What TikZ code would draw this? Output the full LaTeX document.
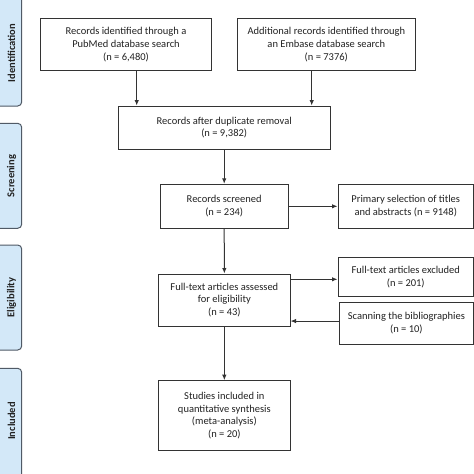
\documentclass[tikz,border=0pt]{standalone}
\usepackage{fontspec}
\setmainfont{Carlito}
\usetikzlibrary{arrows.meta}
\definecolor{linec}{HTML}{333333}
\definecolor{textc}{HTML}{222222}
\definecolor{tabfill}{HTML}{D3E8F8}
\definecolor{tabline}{HTML}{505A66}
\begin{document}
\begin{tikzpicture}[x=1pt,y=-1pt,
  box/.style={draw=linec, line width=1pt, fill=white, align=center, inner sep=0pt,
    text=textc, font=\fontsize{10.5}{12.7}\selectfont},
  arr/.style={draw=linec, line width=1pt, -{Latex[length=5.5pt,width=4.5pt]}},
  tab/.style={draw=tabline, fill=tabfill, line width=1pt, rounded corners=4pt},
  tabtext/.style={rotate=90, font=\fontsize{10.5}{12}\selectfont\bfseries, text=textc}]
\useasboundingbox (0,0) rectangle (474,474);
\clip (0,0) rectangle (474,474);
\fill[white] (0,0) rectangle (474,474);
% side tabs
\draw[tab] (-10,-5) rectangle (21.7,106);
\draw[tab] (-10,123.3) rectangle (21.7,228.3);
\draw[tab] (-10,245) rectangle (21.7,350);
\draw[tab] (-10,368.3) rectangle (21.7,480);
\node[tabtext] (t1) at (11.5,53) {Identification};
\node[tabtext] (t2) at (11.5,176) {Screening};
\node[tabtext] (t3) at (11.5,297.5) {Eligibility};
\node[tabtext] (t4) at (11.5,421) {Included};
% boxes
\node[box, minimum width=170.6pt, minimum height=52.4pt] (pubmed) at (126,44.5)
  {Records identified through a\\PubMed database search\\(n = 6,480)};
\node[box, minimum width=178pt, minimum height=52.4pt] (embase) at (326.3,44.5)
  {Additional records identified through\\an Embase database search\\(n = 7376)};
\node[box, minimum width=212.3pt, minimum height=43.3pt] (dup) at (224.2,127.7)
  {Records after duplicate removal\\(n = 9,382)};
\node[box, minimum width=127.7pt, minimum height=44pt] (screened) at (224.2,206.3)
  {Records screened\\(n = 234)};
\node[box, minimum width=135.5pt, minimum height=44pt] (primary) at (405.75,206.3)
  {Primary selection of titles\\and abstracts (n = 9148)};
\node[box, minimum width=131.3pt, minimum height=52pt] (fulltext) at (224.35,300)
  {Full-text articles assessed\\for eligibility\\(n = 43)};
\node[box, minimum width=135.5pt, minimum height=39.4pt] (excluded) at (405.75,277)
  {Full-text articles excluded\\(n = 201)};
\node[box, minimum width=134.2pt, minimum height=41.3pt] (scanning) at (406.4,323.35)
  {Scanning the bibliographies\\(n = 10)};
\node[box, minimum width=131.3pt, minimum height=70pt] (studies) at (224.35,415.7)
  {Studies included in\\quantitative synthesis\\(meta-analysis)\\(n = 20)};
% connectors
\draw[arr] ([xshift=10.7pt]pubmed.south) -- ([xshift=10.7pt]pubmed.south |- dup.north);
\draw[arr] ([xshift=-14.6pt]embase.south) -- ([xshift=-14.6pt]embase.south |- dup.north);
\draw[arr] (dup.south) -- (screened.north);
\draw[arr] (screened.east) -- (primary.west);
\draw[arr] (screened.south) -- (fulltext.north);
\draw[arr] ([yshift=20.7pt]fulltext.east) -- ([yshift=20.7pt]fulltext.east -| excluded.west);
\draw[arr] ([yshift=2.3pt]scanning.west) -- ([yshift=2.3pt]scanning.west -| fulltext.east);
\draw[arr] (fulltext.south) -- (studies.north);
\end{tikzpicture}
\end{document}
